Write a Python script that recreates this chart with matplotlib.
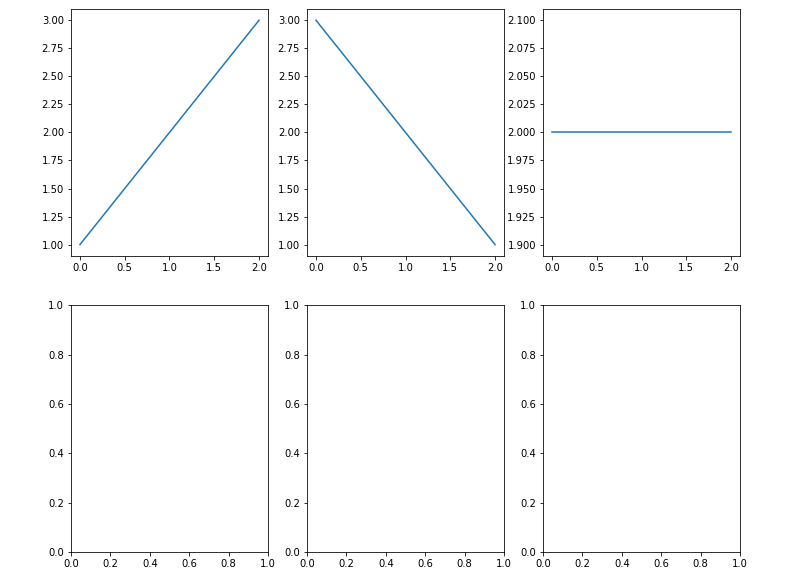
import numpy as np
import matplotlib
matplotlib.use('Agg')
import matplotlib.pyplot as plt

# --- Data ---
x = [0, 1, 2]
y_up = [1, 2, 3]
y_down = [3, 2, 1]
y_flat = [2, 2, 2]

# --- Plotting ---
fig, axes = plt.subplots(2, 3, figsize=(798/72, 587/72), dpi=72)
plt.subplots_adjust(left=71/798, right=740/798, top=1 - 9/587, bottom=1 - 552/587,
                    wspace=0.198, hspace=0.2)

axes[0, 0].plot(x, y_up)
axes[0, 1].plot(x, y_down)
axes[0, 2].plot(x, y_flat)

fig.savefig('out.png', dpi=72)
